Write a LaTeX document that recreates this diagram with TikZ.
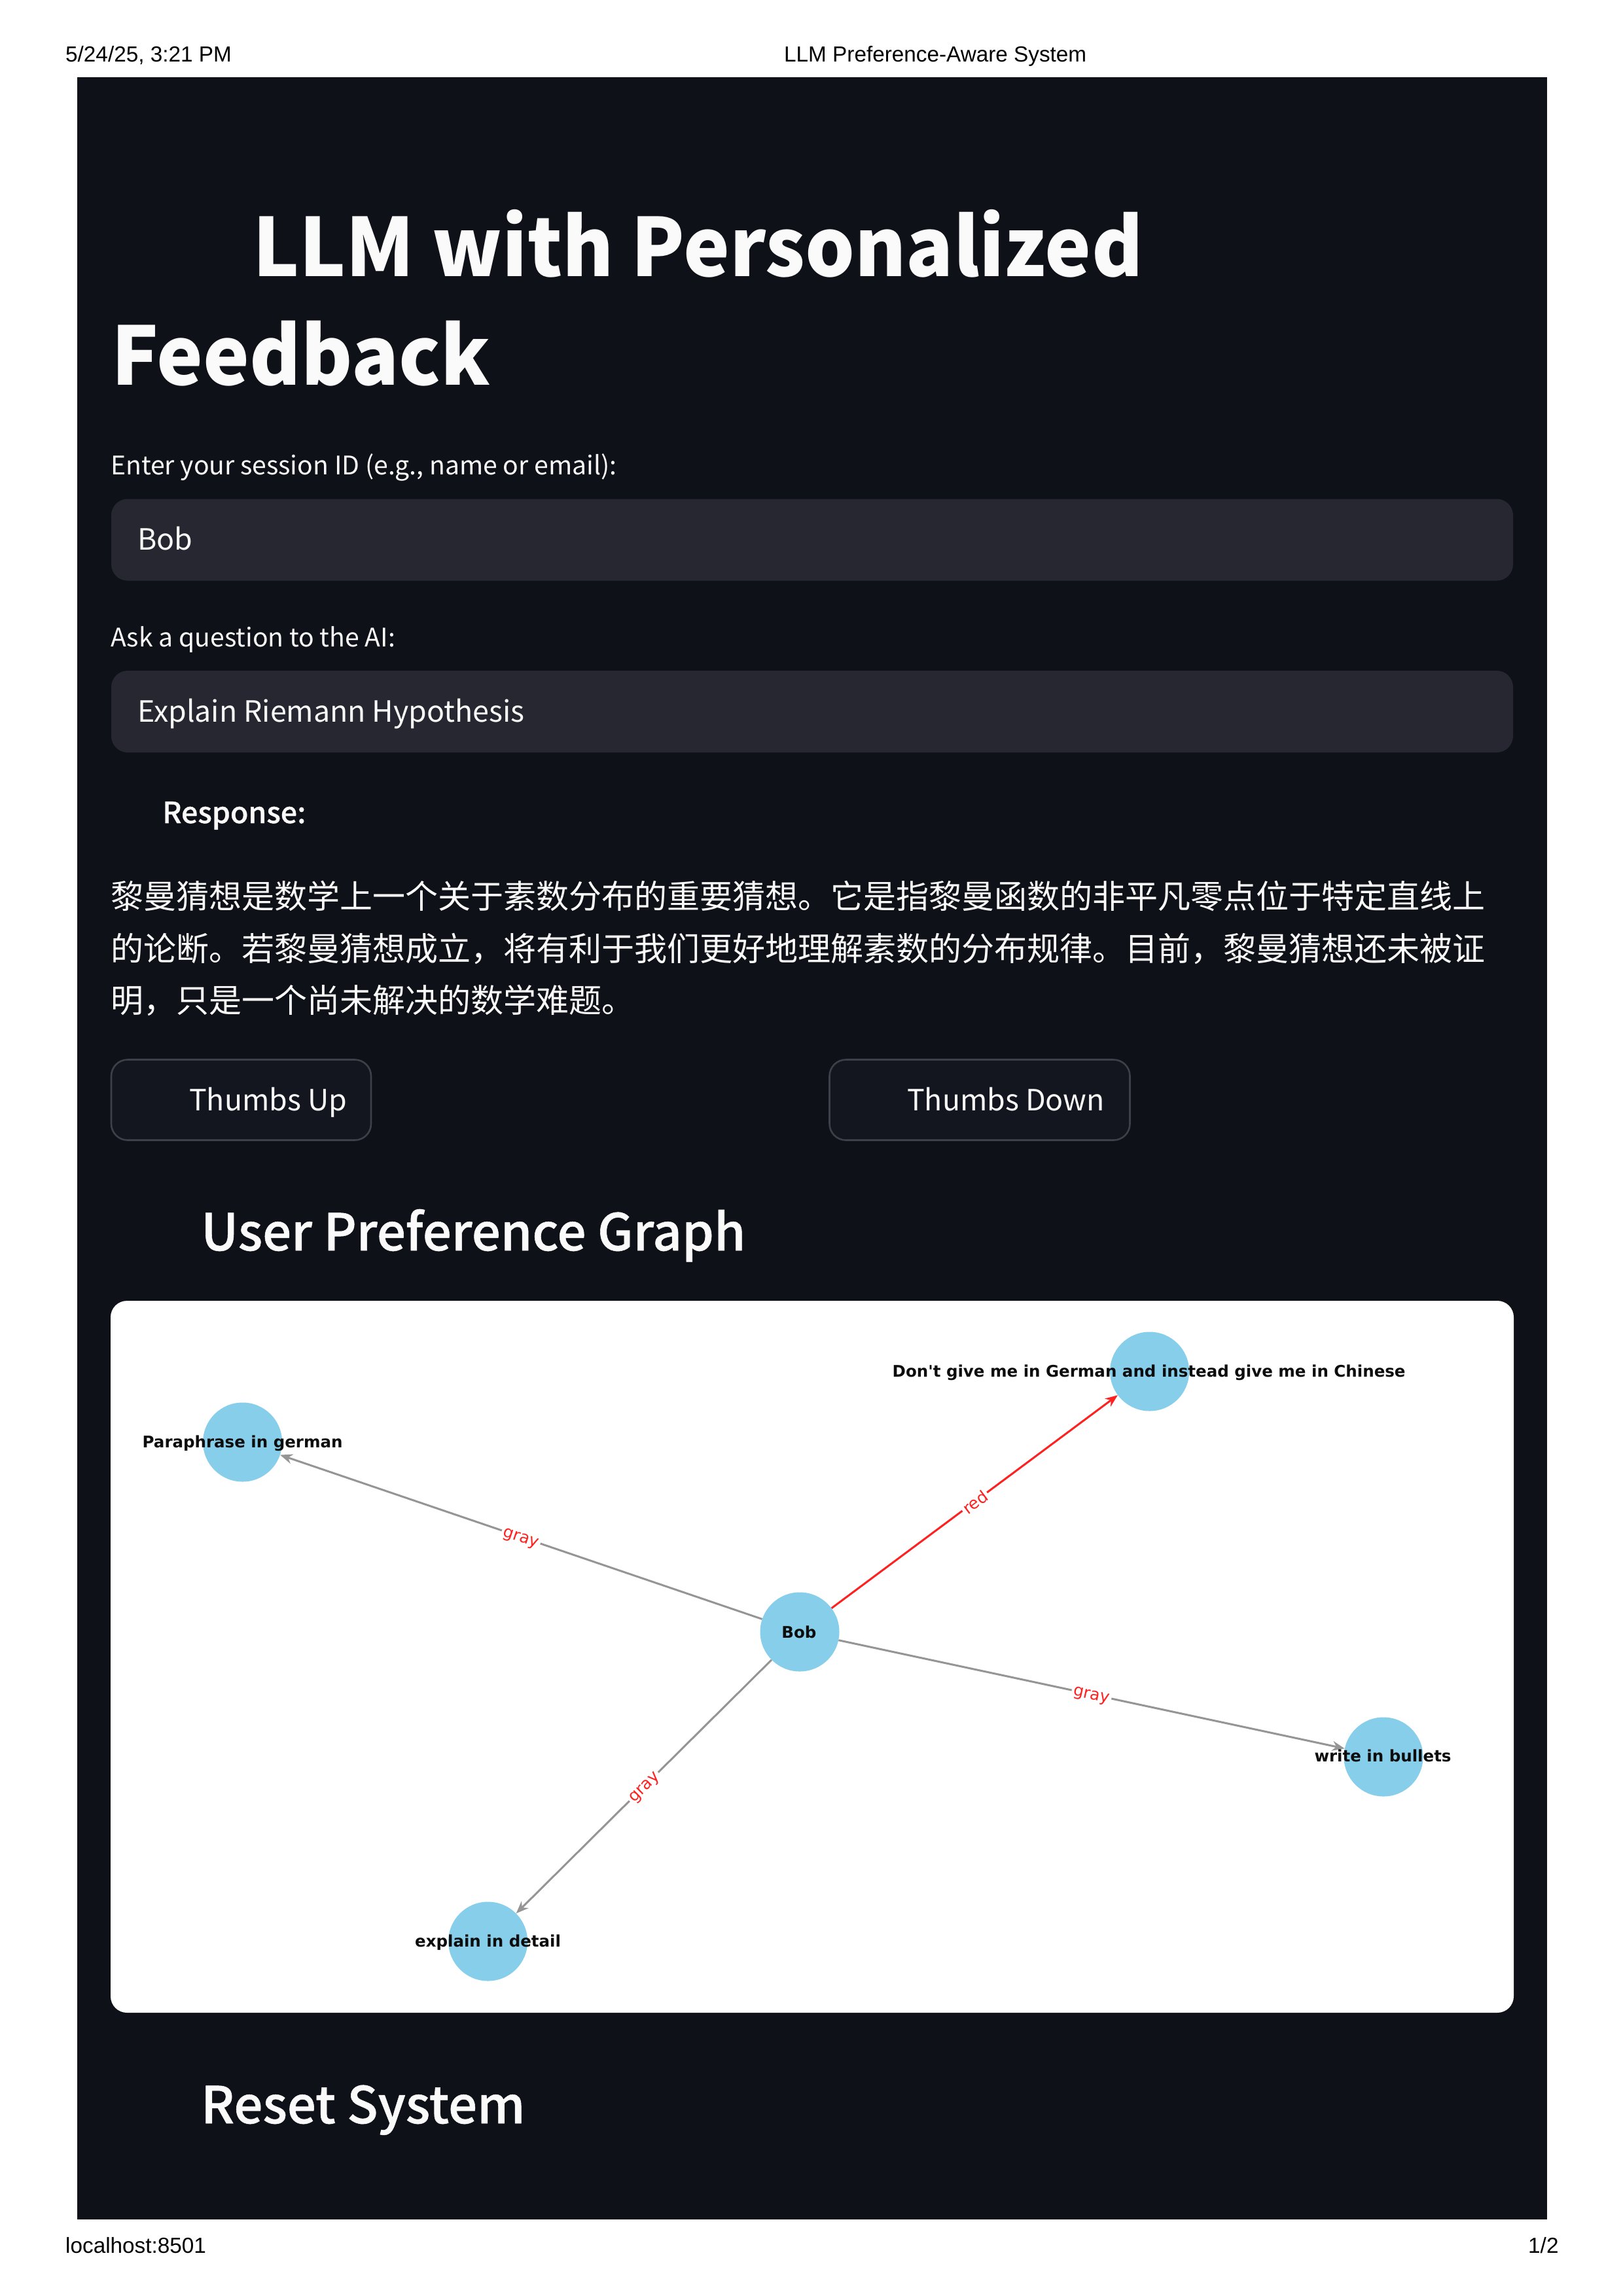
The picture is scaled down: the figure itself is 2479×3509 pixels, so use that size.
\documentclass[tikz,border=0pt]{standalone}
\usepackage{fontspec}
\usetikzlibrary{arrows.meta}
\setmainfont{Liberation Sans}
\newfontfamily\stfont{Noto Sans CJK SC}
\newfontfamily\sttitle[FakeStretch=0.97]{Noto Sans CJK SC}
\newfontfamily\stsemi[FakeBold=0.7]{Noto Sans CJK SC Medium}
\newfontfamily\hdfont{Liberation Sans}
\newfontfamily\gfont{DejaVu Sans}
\definecolor{pagebg}{HTML}{0E1117}
\definecolor{inputbg}{HTML}{262730}
\definecolor{btnbg}{HTML}{13161E}
\definecolor{btnline}{HTML}{3D4048}
\definecolor{fg}{HTML}{FAFAFA}
\definecolor{sky}{HTML}{87CEEB}
\definecolor{edgegray}{HTML}{959595}
\definecolor{edgered}{HTML}{FF2020}
\tikzset{
  x=1pt,y=-1pt,
  txt/.style={inner sep=0pt,anchor=base west,text=fg,font=\stfont},
  hdr/.style={inner sep=0pt,anchor=base west,text=black,font=\hdfont\fontsize{33.3}{40}\selectfont},
  title/.style={txt,font=\sttitle\bfseries\fontsize{123}{150}\selectfont},
  subtitle/.style={txt,font=\stsemi\fontsize{77.8}{95}\selectfont},
  lbl/.style={txt,font=\stfont\fontsize{39.1}{48}\selectfont},
  body/.style={txt,font=\stfont\fontsize{44.7}{55}\selectfont},
  zh/.style={txt,font=\stfont\fontsize{50}{60}\selectfont},
  inputbox/.style={fill=inputbg,rounded corners=25pt,inner sep=0pt,minimum width=2142pt,minimum height=125pt},
  btn/.style={fill=btnbg,draw=btnline,line width=2.6pt,rounded corners=25pt,inner sep=0pt,minimum height=123pt},
  gnode/.style={circle,fill=sky,inner sep=0pt,minimum size=121pt},
  glabel/.style={inner sep=0pt,yshift=-2pt,text=black!95,font=\gfont\bfseries\fontsize{24.5}{29}\selectfont},
  elabel/.style={sloped,pos=.5,fill=white,inner sep=3pt,text=edgered,font=\gfont\fontsize{24.8}{29}\selectfont},
  arrowgray/.style={draw=edgegray,line width=3pt,-{Stealth[length=19pt,width=15pt]}},
  arrowred/.style={draw=edgered,line width=3pt,-{Stealth[length=19pt,width=15pt]}},
}
\begin{document}
\begin{tikzpicture}
\useasboundingbox (0,0) rectangle (2479,3509);
\fill[white] (0,0) rectangle (2479,3509);
\fill[pagebg] (118,118) rectangle (2364,3392);
% page furniture
\node[hdr] (date) at (100,94) {5/24/25, 3:21 PM};
\node[hdr] (pagetitle) at (1198,94) {LLM Preference-Aware System};
\node[hdr] (url) at (100,3443) {localhost:8501};
\node[hdr] (pageno) at (2335,3443) {1/2};
% title
\node[title] (t1) at (386,422) {LLM with Personalized};
\node[title] (t2) at (170,588) {Feedback};
% inputs
\node[lbl] (l1) at (169,725) {Enter your session ID (e.g., name or email):};
\node[inputbox] (box1) at (1241,825) {};
\node[body] (v1) at (210,840) {Bob};
\node[lbl] (l2) at (169,988) {Ask a question to the AI:};
\node[inputbox] (box2) at (1241,1087.5) {};
\node[body] (v2) at (210,1103) {Explain Riemann Hypothesis};
% response
\node[txt,font=\stsemi\fontsize{44.7}{55}\selectfont] (resp) at (248,1258) {Response:};
\node[zh] (r1) at (169,1388) {黎曼猜想是数学上一个关于素数分布的重要猜想。它是指黎曼函数的非平凡零点位于特定直线上};
\node[zh] (r2) at (169,1468) {的论断。若黎曼猜想成立，将有利于我们更好地理解素数的分布规律。目前，黎曼猜想还未被证};
\node[zh] (r3) at (169,1547) {明，只是一个尚未解决的数学难题。};
% buttons
\node[btn,minimum width=397pt] (up) at (368.5,1681) {};
\node[body] (uptext) at (289,1697) {Thumbs Up};
\node[btn,minimum width=459pt] (down) at (1497,1681) {};
\node[body] (downtext) at (1386,1697) {Thumbs Down};
% graph
\node[subtitle] (gt) at (307,1911) {User Preference Graph};
\node[fill=white,rounded corners=25pt,inner sep=0pt,minimum width=2144pt,minimum height=1088pt] (panel) at (1241,2532) {};
\node[gnode] (bob) at (1222,2494) {};
\node[gnode] (para) at (370.6,2204) {};
\node[gnode] (expl) at (745.6,2967) {};
\node[gnode] (dont) at (1756.6,2096) {};
\node[gnode] (bull) at (2114,2685) {};
\draw[arrowgray] (bob) -- node[elabel,yshift=-3pt] {gray} (para);
\draw[arrowgray] (bob) -- node[elabel,yshift=-3pt] {gray} (expl);
\draw[arrowred] (bob) -- node[elabel,yshift=-1pt] {red} (dont);
\draw[arrowgray] (bob) -- node[elabel,yshift=-3pt] {gray} (bull);
\node[glabel,yshift=2pt,xshift=-1pt] (bobl) at (bob) {Bob};
\node[glabel] (paral) at (para) {Paraphrase in german};
\node[glabel] (expll) at (expl) {explain in detail};
\node[glabel,xshift=-1pt] (dontl) at (dont) {Don't give me in German and instead give me in Chinese};
\node[glabel,yshift=4pt,xshift=-1pt] (bulll) at (bull) {write in bullets};
% reset
\node[subtitle] (reset) at (307,3245) {Reset System};
\end{tikzpicture}
\end{document}
